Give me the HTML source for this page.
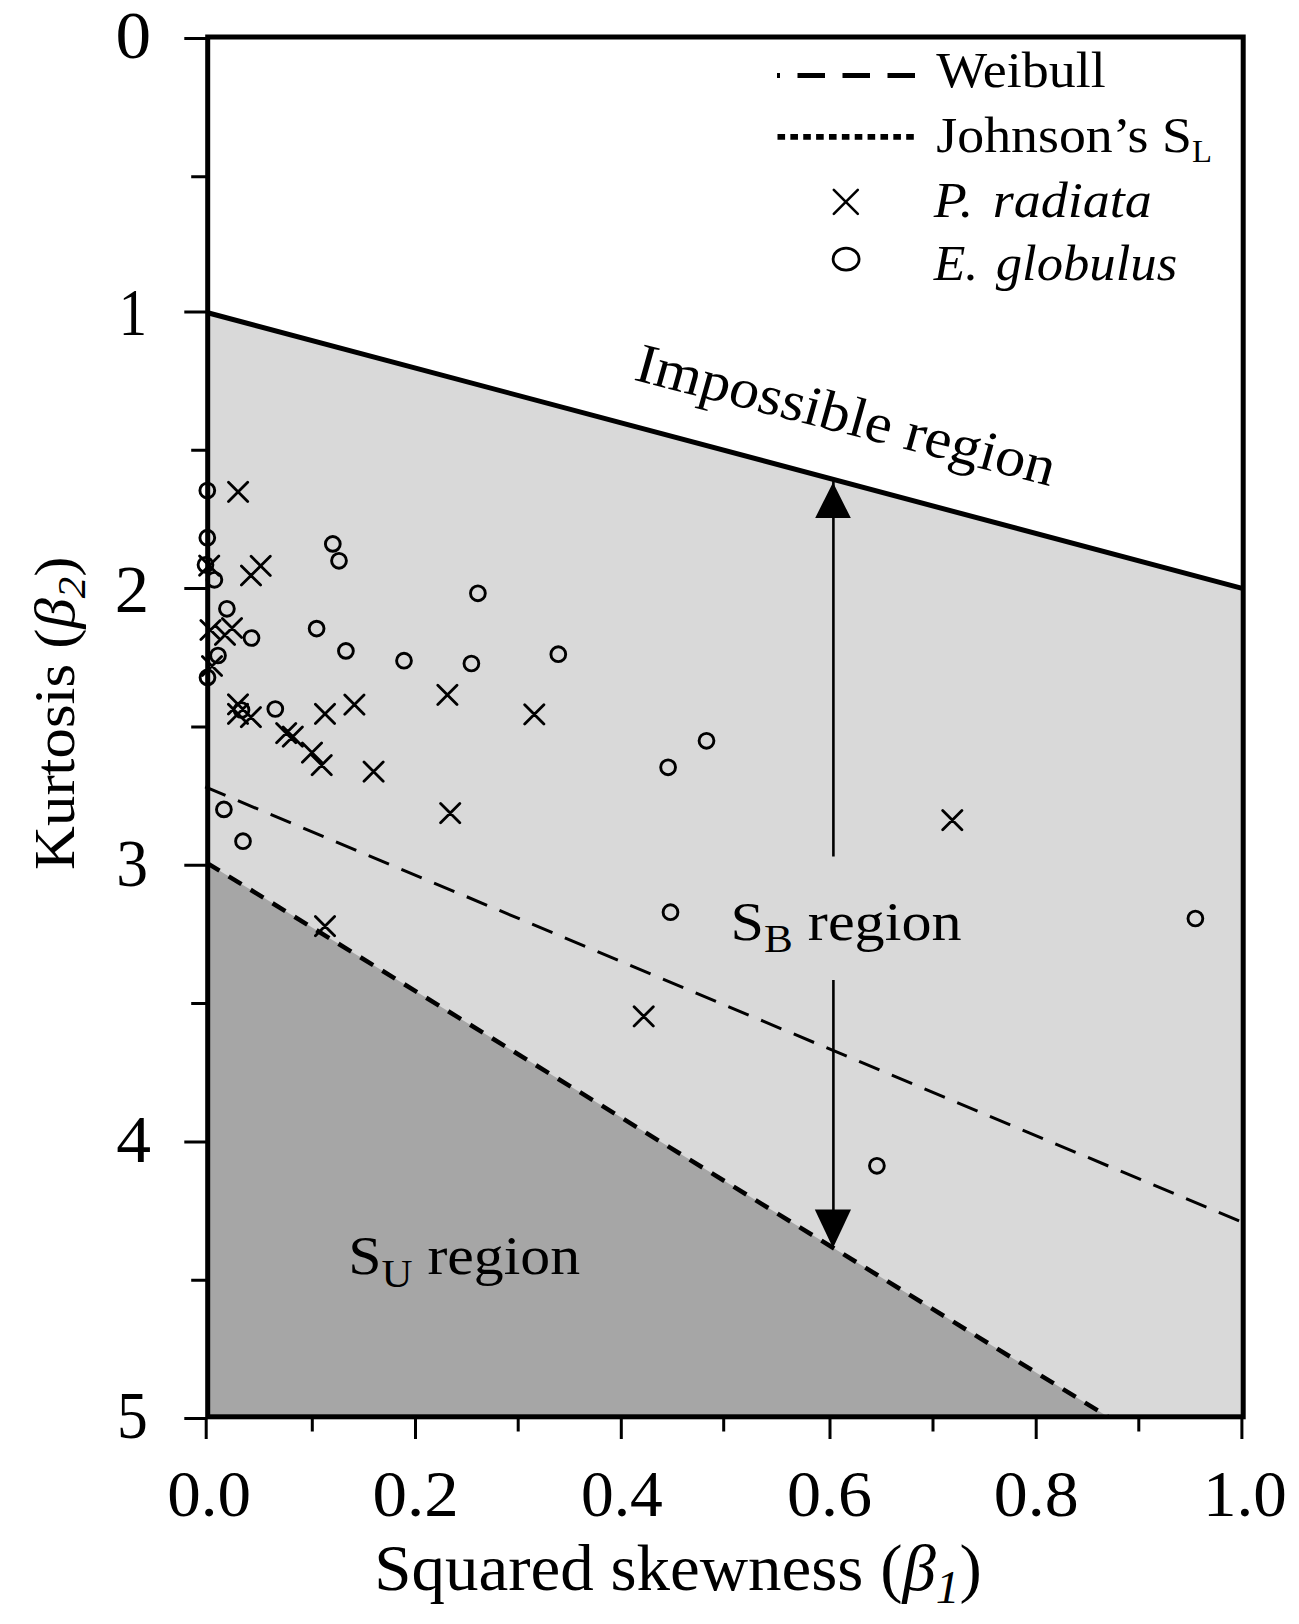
<!DOCTYPE html>
<html><head><meta charset="utf-8"><title>Kurtosis vs squared skewness</title>
<style>html,body{margin:0;padding:0;background:#fff;width:1299px;height:1624px;overflow:hidden}</style>
</head><body>
<svg width="1299" height="1624" viewBox="0 0 1299 1624" style="font-family:'Liberation Serif','Times New Roman',serif;display:block"><rect x="0" y="0" width="1299" height="1624" fill="#fff"/>
<polygon points="207.7,312.7 1243.2,588.7 1243.2,1416.8 207.7,1416.8" fill="#d9d9d9"/>
<polygon points="207.7,863.4 1108.0,1416.8 207.7,1416.8" fill="#a6a6a6"/>
<line x1="205.2" y1="786.97" x2="1243" y2="1222.53" stroke="#000" stroke-width="3" stroke-dasharray="22 13.46"/>
<line x1="206.7" y1="862.80" x2="1108.0" y2="1416.8" stroke="#000" stroke-width="4.5" stroke-dasharray="15 10.77"/>
<line x1="207.7" y1="312.72" x2="1243.2" y2="588.65" stroke="#000" stroke-width="5"/>
<line x1="833.4" y1="480" x2="833.4" y2="856.6" stroke="#000" stroke-width="2.6"/>
<line x1="833.4" y1="980" x2="833.4" y2="1240" stroke="#000" stroke-width="2.6"/>
<polygon points="833.0,482.5 850.8,518 815.1999999999999,518" fill="#000"/>
<polygon points="814.8,1209.5 851.0,1209.5 833.0,1248" fill="#000"/>
<path d="M228.5,482.2L247.7,501.4M228.5,501.4L247.7,482.2M251.1,556.3L270.3,575.5M251.1,575.5L270.3,556.3M241.4,565.9L260.6,585.1M241.4,585.1L260.6,565.9M199.6,556.1L218.8,575.3M199.6,575.3L218.8,556.1M200.9,620.4L220.1,639.6M200.9,639.6L220.1,620.4M222.4,618.4L241.6,637.6M222.4,637.6L241.6,618.4M215.4,625.4L234.6,644.6M215.4,644.6L234.6,625.4M202.4,656.4L221.6,675.6M202.4,675.6L221.6,656.4M228.4,694.8L247.6,714.0M228.4,714.0L247.6,694.8M228.4,704.3L247.6,723.5M228.4,723.5L247.6,704.3M241.3,707.5L260.5,726.7M241.3,726.7L260.5,707.5M276.6,723.6L295.8,742.8M276.6,742.8L295.8,723.6M283.2,727.0L302.4,746.2M283.2,746.2L302.4,727.0M302.4,743.1L321.6,762.3M302.4,762.3L321.6,743.1M312.1,755.5L331.3,774.7M312.1,774.7L331.3,755.5M315.4,704.3L334.6,723.5M315.4,723.5L334.6,704.3M344.8,695.1L364.0,714.3M344.8,714.3L364.0,695.1M364.0,762.0L383.2,781.2M364.0,781.2L383.2,762.0M437.8,685.3L457.0,704.5M437.8,704.5L457.0,685.3M524.7,704.7L543.9,723.9M524.7,723.9L543.9,704.7M440.6,803.5L459.8,822.7M440.6,822.7L459.8,803.5M942.7,810.6L961.9,829.8M942.7,829.8L961.9,810.6M315.4,916.5L334.6,935.7M315.4,935.7L334.6,916.5M634.1,1006.8L653.3,1026.0M634.1,1026.0L653.3,1006.8" stroke="#000" stroke-width="2.8" stroke-linecap="round" fill="none"/>
<circle cx="207.3" cy="490.5" r="7.4" stroke="#000" stroke-width="2.9" fill="none"/>
<circle cx="207.3" cy="537.7" r="7.4" stroke="#000" stroke-width="2.9" fill="none"/>
<circle cx="205.5" cy="564.8" r="7.4" stroke="#000" stroke-width="2.9" fill="none"/>
<circle cx="214.4" cy="579.8" r="7.4" stroke="#000" stroke-width="2.9" fill="none"/>
<circle cx="226.9" cy="608.8" r="7.4" stroke="#000" stroke-width="2.9" fill="none"/>
<circle cx="251.5" cy="638" r="7.4" stroke="#000" stroke-width="2.9" fill="none"/>
<circle cx="218" cy="655.5" r="7.4" stroke="#000" stroke-width="2.9" fill="none"/>
<circle cx="207.5" cy="677.4" r="7.4" stroke="#000" stroke-width="2.9" fill="none"/>
<circle cx="332.8" cy="543.9" r="7.4" stroke="#000" stroke-width="2.9" fill="none"/>
<circle cx="339" cy="560.8" r="7.4" stroke="#000" stroke-width="2.9" fill="none"/>
<circle cx="477.9" cy="593.3" r="7.4" stroke="#000" stroke-width="2.9" fill="none"/>
<circle cx="316.6" cy="628.6" r="7.4" stroke="#000" stroke-width="2.9" fill="none"/>
<circle cx="345.9" cy="650.9" r="7.4" stroke="#000" stroke-width="2.9" fill="none"/>
<circle cx="404" cy="660.7" r="7.4" stroke="#000" stroke-width="2.9" fill="none"/>
<circle cx="471.4" cy="663.5" r="7.4" stroke="#000" stroke-width="2.9" fill="none"/>
<circle cx="558.3" cy="654.2" r="7.4" stroke="#000" stroke-width="2.9" fill="none"/>
<circle cx="275.3" cy="709" r="7.4" stroke="#000" stroke-width="2.9" fill="none"/>
<circle cx="241.5" cy="710" r="7.4" stroke="#000" stroke-width="2.9" fill="none"/>
<circle cx="706.5" cy="740.8" r="7.4" stroke="#000" stroke-width="2.9" fill="none"/>
<circle cx="668.1" cy="767.3" r="7.4" stroke="#000" stroke-width="2.9" fill="none"/>
<circle cx="223.9" cy="809.4" r="7.4" stroke="#000" stroke-width="2.9" fill="none"/>
<circle cx="243" cy="841.2" r="7.4" stroke="#000" stroke-width="2.9" fill="none"/>
<circle cx="670.5" cy="912.2" r="7.4" stroke="#000" stroke-width="2.9" fill="none"/>
<circle cx="1195.4" cy="918.5" r="7.4" stroke="#000" stroke-width="2.9" fill="none"/>
<circle cx="876.9" cy="1165.8" r="7.4" stroke="#000" stroke-width="2.9" fill="none"/>
<rect x="207.7" y="37.0" width="1035.5" height="1379.8" fill="none" stroke="#000" stroke-width="5.0"/>
<path d="M184.3,38.5H206M184.3,311.9H206M184.3,588.6H206M184.3,865.3H206M184.3,1141.9H206M184.3,1418.5H206M191.2,176.8H206M191.2,450.3H206M191.2,726.9H206M191.2,1003.6H206M191.2,1280.2H206M206.2,1418V1439M415.5,1418V1439M621.3,1418V1439M830,1418V1439M1036.2,1418V1439M1241.9,1418V1439M312.3,1418V1431.5M518.2,1418V1431.5M723.7,1418V1431.5M933,1418V1431.5M1138.8,1418V1431.5" stroke="#000" stroke-width="3" fill="none"/>
<line x1="777" y1="75.5" x2="915" y2="75.5" stroke="#000" stroke-width="5" stroke-dasharray="27.5 17.5" stroke-dashoffset="24.5"/>
<line x1="777.5" y1="136.8" x2="914" y2="136.8" stroke="#000" stroke-width="5.8" stroke-dasharray="7.6 5.27"/>
<path d="M833.8,189.8L857.8,213.8M833.8,213.8L857.8,189.8" stroke="#000" stroke-width="2.6" stroke-linecap="round" fill="none"/>
<ellipse cx="846.1" cy="259.1" rx="13" ry="11" stroke="#000" stroke-width="2.8" fill="none"/>
<text transform="translate(115.61,58.3) scale(1.0643,1)" font-size="67">0</text>
<text transform="translate(118.74,335.3) scale(0.8435,1)" font-size="67">1</text>
<text transform="translate(114.82,612.4) scale(1.0259,1)" font-size="67">2</text>
<text transform="translate(116.15,885.6) scale(0.9500,1)" font-size="67">3</text>
<text transform="translate(116.36,1162.3) scale(1.0387,1)" font-size="67">4</text>
<text transform="translate(116.93,1438.3) scale(0.9185,1)" font-size="67">5</text>
<text transform="translate(167.14,1515.6) scale(1.0312,1)" font-size="65">0.0</text>
<text transform="translate(372.58,1515.6) scale(1.0618,1)" font-size="65">0.2</text>
<text transform="translate(580.88,1515.6) scale(1.0077,1)" font-size="65">0.4</text>
<text transform="translate(786.90,1515.6) scale(1.0481,1)" font-size="65">0.6</text>
<text transform="translate(993.81,1515.6) scale(1.0442,1)" font-size="65">0.8</text>
<text transform="translate(1203.00,1515.6) scale(1.0329,1)" font-size="65">1.0</text>
<text transform="translate(374.28,1589.8) scale(1.0305,1)" font-size="65">Squared skewness (<tspan font-style="italic">β</tspan><tspan font-style="italic" font-size="46" dy="13.5">1</tspan><tspan dy="-13.5">)</tspan></text>
<text transform="translate(730.52,939.6) scale(1.0942,1)" font-size="55">S<tspan font-size="39.5" dy="12.8">B</tspan><tspan dy="-12.8"> region</tspan></text>
<text transform="translate(348.15,1273.7) scale(1.0876,1)" font-size="55">S<tspan font-size="39.5" dy="12.8">U</tspan><tspan dy="-12.8"> region</tspan></text>
<text transform="translate(936.20,86.7) scale(1.0591,1)" font-size="51">Weibull</text>
<text transform="translate(936.35,152.4) scale(1.0547,1)" font-size="51">Johnson’s S<tspan font-size="31" dy="9.5">L</tspan></text>
<text transform="translate(933.70,216.8) scale(1.0600,1)" font-size="51" font-style="italic">P.</text>
<text transform="translate(992.68,216.8) scale(1.0596,1)" font-size="51" font-style="italic">radiata</text>
<text transform="translate(933.70,280.0) scale(1.0154,1)" font-size="51" font-style="italic">E.</text>
<text transform="translate(995.70,280.0) scale(1.0333,1)" font-size="51" font-style="italic">globulus</text>
<text transform="translate(73.6,869.9) rotate(-90) scale(1.076,1)" font-size="56.5">Kurtosis (<tspan font-style="italic">β</tspan><tspan font-style="italic" font-size="40" dy="11.5">2</tspan><tspan dy="-11.5">)</tspan></text>
<text transform="translate(632.5,379.5) scale(1.05,1) rotate(15) scale(1.0225,1)" font-size="56">Impossible region</text></svg>
</body></html>
